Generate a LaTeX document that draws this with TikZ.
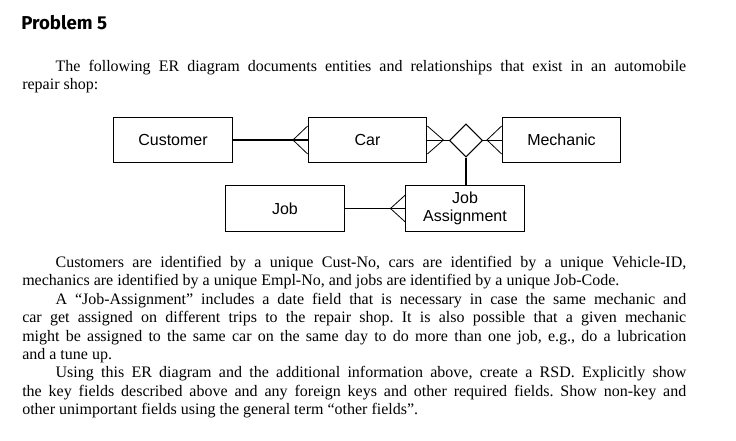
\documentclass[tikz,border=0pt]{standalone}
\usepackage{fontspec}
\setmainfont{Liberation Serif}
\setsansfont{Liberation Sans}
\newfontfamily\titlefont{Fira Sans}
\usetikzlibrary{shapes.geometric}
\begin{document}
\frenchspacing
\begin{tikzpicture}[x=0.75pt,y=-0.75pt,
  ent/.style={draw,line width=0.8pt,minimum width=89pt,minimum height=34pt,font=\sffamily\fontsize{12}{13.5}\selectfont,align=center,inner sep=0pt},
  ln/.style={line width=1.2pt},
  ft/.style={line width=0.6pt},
  para/.style={anchor=north west,inner sep=0pt,text width=498pt,align=justify,font=\fontsize{12}{13.8}\selectfont}]
\useasboundingbox (0,0) rectangle (736,441);
\node[anchor=west,inner sep=0pt,font=\titlefont\bfseries\fontsize{14}{16}\selectfont] (title) at (21,23) {Problem 5};
\node[para] (p1) at (22,60) {\hspace*{25pt}The following ER diagram documents entities and relationships that exist in an automobile\linebreak repair shop:};
\node[ent] (cust) at (173,140) {Customer};
\node[ent] (car) at (367.5,140) {Car};
\node[ent] (mech) at (561.5,140) {Mechanic};
\node[ent] (job) at (285,208.5) {Job};
\node[ent] (ja) at (465,208.5) {Job\\Assignment};
\node[draw,line width=0.8pt,diamond,aspect=1,minimum width=25pt,minimum height=25pt,inner sep=0pt] (rel) at (466,140.5) {};
% connectors
\draw[ln] (cust.east) -- (car.west);
\draw[ln] (car.east |- rel.west) -- (rel.west);
\draw[ln] (rel.east) -- (mech.west |- rel.east);
\draw[ln] (rel.south) -- (rel.south |- ja.north);
\draw[ln] (job.east) -- (ja.west);
% crow's feet
\coordinate (a1) at ([xshift=-11pt]car.west);
\draw[ft] ([yshift=10.5pt]car.west) -- (a1) -- ([yshift=-10.5pt]car.west);
\coordinate (a2) at ([xshift=12pt]car.east);
\draw[ft] ([yshift=10.5pt]car.east) -- (a2) -- ([yshift=-10.5pt]car.east);
\coordinate (a3) at ([xshift=-11pt]mech.west);
\draw[ft] ([yshift=10.5pt]mech.west) -- (a3) -- ([yshift=-10.5pt]mech.west);
\coordinate (a4) at ([xshift=-11pt]ja.west);
\draw[ft] ([yshift=10pt]ja.west) -- (a4) -- ([yshift=-10pt]ja.west);
\node[para] (p2) at (22,256) {\hspace*{25pt}Customers are identified by a unique Cust-No, cars are identified by a unique Vehicle-ID,\linebreak
mechanics are identified by a unique Empl-No, and jobs are identified by a unique Job-Code.\par
\hspace*{25pt}A “Job-Assignment” includes a date field that is necessary in case the same mechanic and\linebreak
car get assigned on different trips to the repair shop. It is also possible that a given mechanic\linebreak
might be assigned to the same car on the same day to do more than one job, e.g., do a lubrication\linebreak
and a tune up.\par
\hspace*{25pt}Using this ER diagram and the additional information above, create a RSD. Explicitly show\linebreak
the key fields described above and any foreign keys and other required fields. Show non-key and\linebreak
other unimportant fields using the general term “other fields”.};
\end{tikzpicture}
\end{document}
